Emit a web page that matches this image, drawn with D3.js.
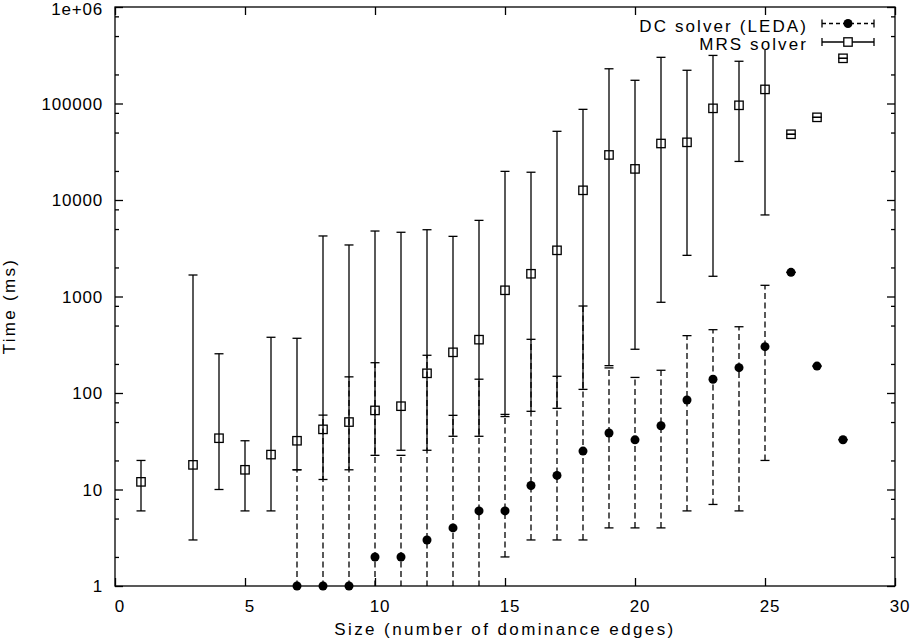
<!DOCTYPE html>
<html>
<head>
<meta charset="utf-8">
<script src="https://cdn.jsdelivr.net/npm/d3@7"></script>
<style>
  html, body { margin: 0; padding: 0; background: #fff; }
  svg { display: block; }
  text { font-family: "Liberation Sans", Arial, sans-serif; fill: #000; }
</style>
</head>
<body>
<svg id="chart" width="914" height="643"></svg>
<script>
// ---- data ----
const mrsSize = [1, 3, 4, 5, 6, 7, 8, 9, 10, 11, 12, 13, 14, 15, 16, 17, 18, 19, 20, 21, 22, 23, 24, 25, 26, 27, 28];
const mrsTime = [12, 18, 34, 16, 23, 32, 42, 50, 66, 73, 160, 264, 357, 1160, 1720, 3010, 12600, 29300, 21000, 38500, 39600, 89100, 95800, 140000, 48000, 71900, 294000];
const mrsLow  = [6, 3, 10, 6, 6, 16, 12.7, 16, 22.6, 25.5, 25.5, 35.6, 35.6, 57, 64.6, 69.4, 109, 192, 284, 871, 2670, 1620, 25100, 7000, 48000, 71900, 294000];
const mrsHigh = [20, 1670, 255, 32, 378, 369, 4240, 3420, 4770, 4630, 4920, 4200, 6150, 19800, 19400, 51500, 87000, 229000, 174000, 301000, 221000, 315000, 274000, 500000, 48000, 71900, 294000];

const dcSize = [7, 8, 9, 10, 11, 12, 13, 14, 15, 16, 17, 18, 19, 20, 21, 22, 23, 24, 25, 26, 27, 28];
const dcTime = [1, 1, 1, 2, 2, 3, 4, 6, 6, 11, 14, 25, 38.5, 32.7, 45.8, 84.6, 139, 183, 302, 1780, 190, 32.8];
const dcLow  = [0.5, 0.5, 0.5, 0.5, 0.5, 0.5, 0.5, 0.5, 2, 3, 3, 3, 4, 4, 4, 6, 7, 6, 20, 1780, 190, 32.8];
const dcHigh = [16, 59, 147, 206, 22.6, 246, 58.7, 139, 60, 360, 149, 797, 182, 145, 172, 393, 453, 486, 1306, 1780, 190, 32.8];

const xTicks = [0, 5, 10, 15, 20, 25, 30];
const yTicks = [1, 10, 100, 1000, 10000, 100000, 1000000];
const yTickLabels = ["1", "10", "100", "1000", "10000", "100000", "1e+06"];
const yMinorMult = [2, 5, 8];

const xLabel = "Size (number of dominance edges)";
const yLabel = "Time (ms)";
const seriesNames = ["DC solver (LEDA)", "MRS solver"];

// ---- layout ----
const W = 914, H = 643;
const L = 115, R = 895, T = 7, B = 586;
const svg = d3.select("#chart");
svg.append("rect").attr("width", W).attr("height", H).attr("fill", "#fff");

const x = d3.scaleLinear().domain([0, 30]).range([L, R]);
const y = d3.scaleLog().domain([1, 1e6]).range([B, T]);

svg.append("defs").append("clipPath").attr("id", "clip")
  .append("rect").attr("x", L).attr("y", T).attr("width", R - L).attr("height", B - T);

const mrs = mrsSize.map((s, i) => ({ s, v: mrsTime[i], lo: mrsLow[i], hi: mrsHigh[i] }));
const dc = dcSize.map((s, i) => ({ s, v: dcTime[i], lo: dcLow[i], hi: dcHigh[i] }));

const capW = 4.5;
const dash = "6,3.5";
const lw = 1.3;

function errorBars(g, data, dashed) {
  const gg = g.append("g").attr("clip-path", "url(#clip)")
    .attr("stroke", "#000").attr("stroke-width", lw).attr("fill", "none");
  gg.selectAll("line.bar").data(data).join("line")
    .attr("x1", d => x(d.s)).attr("x2", d => x(d.s))
    .attr("y1", d => y(d.lo)).attr("y2", d => y(d.hi))
    .attr("stroke-dasharray", dashed ? dash : null);
  gg.selectAll("line.lo").data(data).join("line")
    .attr("x1", d => x(d.s) - capW).attr("x2", d => x(d.s) + capW)
    .attr("y1", d => y(d.lo)).attr("y2", d => y(d.lo));
  gg.selectAll("line.hi").data(data).join("line")
    .attr("x1", d => x(d.s) - capW).attr("x2", d => x(d.s) + capW)
    .attr("y1", d => y(d.hi)).attr("y2", d => y(d.hi));
}

const plot = svg.append("g");
errorBars(plot.append("g"), dc, true);
errorBars(plot.append("g"), mrs, false);

// squares (MRS)
plot.append("g").selectAll("rect").data(mrs).join("rect")
  .attr("x", d => x(d.s) - 4.2).attr("y", d => y(d.v) - 4.2)
  .attr("width", 8.4).attr("height", 8.4)
  .attr("fill", "none").attr("stroke", "#000").attr("stroke-width", lw);
// circles (DC)
plot.append("g").selectAll("circle").data(dc).join("circle")
  .attr("cx", d => x(d.s)).attr("cy", d => y(d.v)).attr("r", 4.5)
  .attr("fill", "#000");

// ---- key (opaque box) ----
const key = svg.append("g");
key.append("rect").attr("x", 630).attr("y", 14).attr("width", 252).attr("height", 36).attr("fill", "#fff");
const rows = [{ name: seriesNames[0], yy: 23.5, dashed: true, mark: "circle" },
              { name: seriesNames[1], yy: 42, dashed: false, mark: "square" }];
rows.forEach(r => {
  key.append("text").attr("x", 808).attr("y", r.yy + 8)
    .attr("text-anchor", "end").attr("font-size", 17).attr("letter-spacing", 2.1)
    .text(r.name);
  const g = key.append("g").attr("stroke", "#000").attr("stroke-width", lw);
  g.append("line").attr("x1", 822).attr("x2", 874).attr("y1", r.yy).attr("y2", r.yy)
    .attr("stroke-dasharray", r.dashed ? "4,3" : null);
  g.append("line").attr("x1", 822).attr("x2", 822).attr("y1", r.yy - 4).attr("y2", r.yy + 4);
  g.append("line").attr("x1", 874).attr("x2", 874).attr("y1", r.yy - 4).attr("y2", r.yy + 4);
  if (r.mark === "circle") {
    key.append("circle").attr("cx", 848).attr("cy", r.yy).attr("r", 4.5).attr("fill", "#000");
  } else {
    key.append("rect").attr("x", 848 - 4.2).attr("y", r.yy - 4.2).attr("width", 8.4).attr("height", 8.4)
      .attr("fill", "#fff").attr("stroke", "#000").attr("stroke-width", lw);
  }
});

// ---- frame and ticks ----
const frame = svg.append("g").attr("stroke", "#000").attr("stroke-width", lw).attr("fill", "none");
frame.append("rect").attr("x", L).attr("y", T).attr("width", R - L).attr("height", B - T);

const xb = d3.axisBottom(x).tickValues(xTicks).tickSizeInner(-8).tickSizeOuter(0).tickFormat(() => "");
const xt = d3.axisTop(x).tickValues(xTicks).tickSizeInner(-8).tickSizeOuter(0).tickFormat(() => "");
const minor = [];
yTicks.slice(0, -1).forEach(t => yMinorMult.forEach(m => minor.push(t * m)));
const yl = d3.axisLeft(y).tickValues(yTicks).tickSizeInner(-8).tickSizeOuter(0).tickFormat(() => "");
const yr = d3.axisRight(y).tickValues(yTicks).tickSizeInner(-8).tickSizeOuter(0).tickFormat(() => "");
const ylm = d3.axisLeft(y).tickValues(minor).tickSizeInner(-4).tickSizeOuter(0).tickFormat(() => "");
const yrm = d3.axisRight(y).tickValues(minor).tickSizeInner(-4).tickSizeOuter(0).tickFormat(() => "");

function addAxis(axis, tx, ty) {
  const g = svg.append("g").attr("transform", `translate(${tx},${ty})`).call(axis);
  g.select(".domain").remove();
  g.selectAll("line").attr("stroke", "#000").attr("stroke-width", lw);
}
addAxis(xb, 0, B);
addAxis(xt, 0, T);
addAxis(yl, L, 0);
addAxis(yr, R, 0);
addAxis(ylm, L, 0);
addAxis(yrm, R, 0);

// tick labels
svg.append("g").selectAll("text").data(xTicks).join("text")
  .attr("x", d => x(d) + 5).attr("y", 612)
  .attr("text-anchor", "middle").attr("font-size", 17).attr("letter-spacing", 0.8)
  .text(d => String(d));
svg.append("g").selectAll("text").data(yTicks).join("text")
  .attr("x", 103).attr("y", d => Math.max(y(d) + 6, 15))
  .attr("text-anchor", "end").attr("font-size", 17).attr("letter-spacing", 0.8)
  .text((d, i) => yTickLabels[i]);

// axis labels
svg.append("text").attr("x", 505).attr("y", 635)
  .attr("text-anchor", "middle").attr("font-size", 17).attr("letter-spacing", 2.4)
  .text(xLabel);
svg.append("text").attr("transform", "translate(15,306) rotate(-90)")
  .attr("text-anchor", "middle").attr("font-size", 17).attr("letter-spacing", 2.3)
  .text(yLabel);
</script>
</body>
</html>
